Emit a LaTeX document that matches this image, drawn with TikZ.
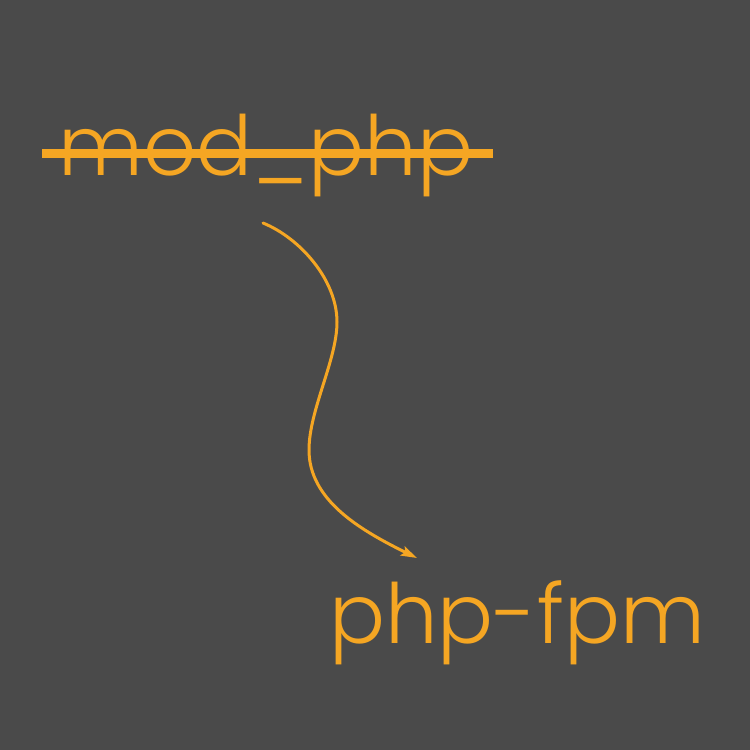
\documentclass[tikz,border=0pt]{standalone}
\usepackage{fontspec}
\newfontfamily\labelfont{Poppins Light}
\definecolor{bggray}{HTML}{4A4A4A}
\definecolor{phporange}{HTML}{F5A623}
\usetikzlibrary{arrows.meta}
\begin{document}
\begin{tikzpicture}[x=.5pt,y=-.5pt,line join=round,
	lbl/.style={anchor=base west,inner sep=0,text=phporange,font=\labelfont\fontsize{41.5}{41.5}\selectfont}]
		\fill[bggray] (0,0) rectangle (750,750);
		\node[lbl] (mod) at (58,175) {mod\_php};
		\node[lbl] (fpm) at (329,643) {php-fpm};
		\coordinate (strikeL) at (42,153);
		\coordinate (strikeR) at (493,153);
		\draw[phporange,line width=4.5pt] (strikeL) -- (strikeR);
		\coordinate (from) at (263,223);
		\coordinate (to) at (417,558);
		\draw[phporange,line width=1.5pt,-{Stealth[length=8pt,width=5pt,inset=1.5pt]},line cap=round]
			(from) .. controls (300,238) and (337,280) .. (337,322)
			.. controls (337,360) and (309,410) .. (309,450)
			.. controls (309,500) and (360,530) .. (to);
\end{tikzpicture}
\end{document}
